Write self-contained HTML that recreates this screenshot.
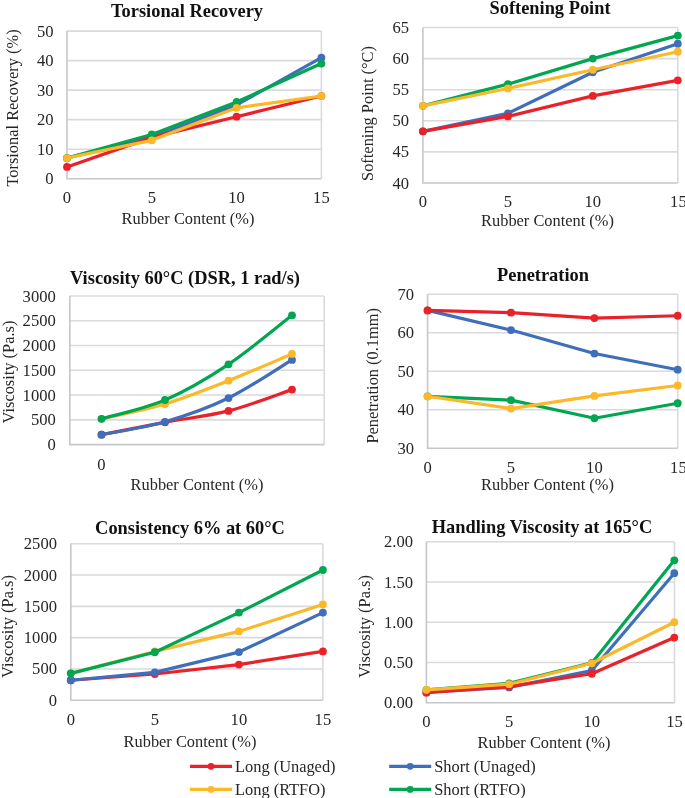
<!DOCTYPE html>
<html><head><meta charset="utf-8"><style>
html,body{margin:0;padding:0;background:#fff;width:685px;height:798px;overflow:hidden}
svg{display:block;will-change:transform}
text{font-family:"Liberation Serif", serif;fill:#262626}
</style></head><body>
<svg width="685" height="798" viewBox="0 0 685 798">
<rect width="685" height="798" fill="#fff"/>
<line x1="67" y1="31.1" x2="321.4" y2="31.1" stroke="#D9DADE" stroke-width="1.6"/>
<line x1="67" y1="60.62" x2="321.4" y2="60.62" stroke="#D9DADE" stroke-width="1.6"/>
<line x1="67" y1="90.14" x2="321.4" y2="90.14" stroke="#D9DADE" stroke-width="1.6"/>
<line x1="67" y1="119.66" x2="321.4" y2="119.66" stroke="#D9DADE" stroke-width="1.6"/>
<line x1="67" y1="149.18" x2="321.4" y2="149.18" stroke="#D9DADE" stroke-width="1.6"/>
<line x1="321.4" y1="31.1" x2="321.4" y2="178.7" stroke="#D9DADE" stroke-width="1.6"/>
<path d="M67,31.1 L67,178.7 L321.4,178.7" fill="none" stroke="#C6C7CB" stroke-width="1.6"/>
<text transform="translate(53.5 36.6) scale(1 1.05)" text-anchor="end" font-size="16.6">50</text>
<text transform="translate(53.5 66.12) scale(1 1.05)" text-anchor="end" font-size="16.6">40</text>
<text transform="translate(53.5 95.64) scale(1 1.05)" text-anchor="end" font-size="16.6">30</text>
<text transform="translate(53.5 125.16) scale(1 1.05)" text-anchor="end" font-size="16.6">20</text>
<text transform="translate(53.5 154.68) scale(1 1.05)" text-anchor="end" font-size="16.6">10</text>
<text transform="translate(53.5 184.2) scale(1 1.05)" text-anchor="end" font-size="16.6">0</text>
<text transform="translate(67 202.8) scale(1 1.05)" text-anchor="middle" font-size="16.6">0</text>
<text transform="translate(151.8 202.8) scale(1 1.05)" text-anchor="middle" font-size="16.6">5</text>
<text transform="translate(236.6 202.8) scale(1 1.05)" text-anchor="middle" font-size="16.6">10</text>
<text transform="translate(321.4 202.8) scale(1 1.05)" text-anchor="middle" font-size="16.6">15</text>
<text transform="translate(187 17.1) scale(1 1.05)" text-anchor="middle" font-size="18.4" font-weight="bold" style="fill:#111">Torsional Recovery</text>
<text transform="translate(188 223.6) scale(1 1.05)" text-anchor="middle" font-size="16.4">Rubber Content (%)</text>
<text transform="translate(18 108) rotate(-90) scale(1 1.05)" text-anchor="middle" font-size="16.4">Torsional Recovery (%)</text>
<path d="M67,158.04 L151.8,137.37 L236.6,104.9 L321.4,57.67" fill="none" stroke="#3F6EBA" stroke-width="3.2" stroke-linejoin="round" stroke-linecap="round"/>
<circle cx="67" cy="158.04" r="3.9" fill="#3F6EBA"/>
<circle cx="151.8" cy="137.37" r="3.9" fill="#3F6EBA"/>
<circle cx="236.6" cy="104.9" r="3.9" fill="#3F6EBA"/>
<circle cx="321.4" cy="57.67" r="3.9" fill="#3F6EBA"/>
<path d="M67,166.89 L151.8,137.37 L236.6,116.71 L321.4,96.04" fill="none" stroke="#EA2128" stroke-width="3.2" stroke-linejoin="round" stroke-linecap="round"/>
<circle cx="67" cy="166.89" r="3.9" fill="#EA2128"/>
<circle cx="151.8" cy="137.37" r="3.9" fill="#EA2128"/>
<circle cx="236.6" cy="116.71" r="3.9" fill="#EA2128"/>
<circle cx="321.4" cy="96.04" r="3.9" fill="#EA2128"/>
<path d="M67,158.04 L151.8,134.42 L236.6,101.95 L321.4,63.57" fill="none" stroke="#00A652" stroke-width="3.2" stroke-linejoin="round" stroke-linecap="round"/>
<circle cx="67" cy="158.04" r="3.9" fill="#00A652"/>
<circle cx="151.8" cy="134.42" r="3.9" fill="#00A652"/>
<circle cx="236.6" cy="101.95" r="3.9" fill="#00A652"/>
<circle cx="321.4" cy="63.57" r="3.9" fill="#00A652"/>
<path d="M67,158.04 L151.8,140.32 L236.6,107.85 L321.4,96.04" fill="none" stroke="#FBB829" stroke-width="3.2" stroke-linejoin="round" stroke-linecap="round"/>
<circle cx="67" cy="158.04" r="3.9" fill="#FBB829"/>
<circle cx="151.8" cy="140.32" r="3.9" fill="#FBB829"/>
<circle cx="236.6" cy="107.85" r="3.9" fill="#FBB829"/>
<circle cx="321.4" cy="96.04" r="3.9" fill="#FBB829"/>
<line x1="422.9" y1="27.5" x2="677.8" y2="27.5" stroke="#D9DADE" stroke-width="1.6"/>
<line x1="422.9" y1="58.6" x2="677.8" y2="58.6" stroke="#D9DADE" stroke-width="1.6"/>
<line x1="422.9" y1="89.7" x2="677.8" y2="89.7" stroke="#D9DADE" stroke-width="1.6"/>
<line x1="422.9" y1="120.8" x2="677.8" y2="120.8" stroke="#D9DADE" stroke-width="1.6"/>
<line x1="422.9" y1="151.9" x2="677.8" y2="151.9" stroke="#D9DADE" stroke-width="1.6"/>
<line x1="677.8" y1="27.5" x2="677.8" y2="183" stroke="#D9DADE" stroke-width="1.6"/>
<path d="M422.9,27.5 L422.9,183 L677.8,183" fill="none" stroke="#C6C7CB" stroke-width="1.6"/>
<text transform="translate(409 33) scale(1 1.05)" text-anchor="end" font-size="16.6">65</text>
<text transform="translate(409 64.1) scale(1 1.05)" text-anchor="end" font-size="16.6">60</text>
<text transform="translate(409 95.2) scale(1 1.05)" text-anchor="end" font-size="16.6">55</text>
<text transform="translate(409 126.3) scale(1 1.05)" text-anchor="end" font-size="16.6">50</text>
<text transform="translate(409 157.4) scale(1 1.05)" text-anchor="end" font-size="16.6">45</text>
<text transform="translate(409 188.5) scale(1 1.05)" text-anchor="end" font-size="16.6">40</text>
<text transform="translate(422.9 207.2) scale(1 1.05)" text-anchor="middle" font-size="16.6">0</text>
<text transform="translate(507.9 207.2) scale(1 1.05)" text-anchor="middle" font-size="16.6">5</text>
<text transform="translate(592.8 207.2) scale(1 1.05)" text-anchor="middle" font-size="16.6">10</text>
<text transform="translate(678.4 207.2) scale(1 1.05)" text-anchor="middle" font-size="16.6">15</text>
<text transform="translate(550 13.9) scale(1 1.05)" text-anchor="middle" font-size="18.4" font-weight="bold" style="fill:#111">Softening Point</text>
<text transform="translate(547.5 225.7) scale(1 1.05)" text-anchor="middle" font-size="16.4">Rubber Content (%)</text>
<text transform="translate(372.7 113.5) rotate(-90) scale(1 1.05)" text-anchor="middle" font-size="16.4">Softening Point (°C)</text>
<path d="M422.9,131.37 L507.9,113.34 L592.8,72.28 L677.8,43.67" fill="none" stroke="#3F6EBA" stroke-width="3.2" stroke-linejoin="round" stroke-linecap="round"/>
<circle cx="422.9" cy="131.37" r="3.9" fill="#3F6EBA"/>
<circle cx="507.9" cy="113.34" r="3.9" fill="#3F6EBA"/>
<circle cx="592.8" cy="72.28" r="3.9" fill="#3F6EBA"/>
<circle cx="677.8" cy="43.67" r="3.9" fill="#3F6EBA"/>
<path d="M422.9,131.37 L507.9,116.45 L592.8,95.92 L677.8,80.37" fill="none" stroke="#EA2128" stroke-width="3.2" stroke-linejoin="round" stroke-linecap="round"/>
<circle cx="422.9" cy="131.37" r="3.9" fill="#EA2128"/>
<circle cx="507.9" cy="116.45" r="3.9" fill="#EA2128"/>
<circle cx="592.8" cy="95.92" r="3.9" fill="#EA2128"/>
<circle cx="677.8" cy="80.37" r="3.9" fill="#EA2128"/>
<path d="M422.9,105.87 L507.9,84.1 L592.8,58.6 L677.8,35.59" fill="none" stroke="#00A652" stroke-width="3.2" stroke-linejoin="round" stroke-linecap="round"/>
<circle cx="422.9" cy="105.87" r="3.9" fill="#00A652"/>
<circle cx="507.9" cy="84.1" r="3.9" fill="#00A652"/>
<circle cx="592.8" cy="58.6" r="3.9" fill="#00A652"/>
<circle cx="677.8" cy="35.59" r="3.9" fill="#00A652"/>
<path d="M422.9,105.87 L507.9,88.46 L592.8,69.8 L677.8,51.76" fill="none" stroke="#FBB829" stroke-width="3.2" stroke-linejoin="round" stroke-linecap="round"/>
<circle cx="422.9" cy="105.87" r="3.9" fill="#FBB829"/>
<circle cx="507.9" cy="88.46" r="3.9" fill="#FBB829"/>
<circle cx="592.8" cy="69.8" r="3.9" fill="#FBB829"/>
<circle cx="677.8" cy="51.76" r="3.9" fill="#FBB829"/>
<line x1="69.8" y1="296" x2="324.2" y2="296" stroke="#D9DADE" stroke-width="1.6"/>
<line x1="69.8" y1="320.77" x2="324.2" y2="320.77" stroke="#D9DADE" stroke-width="1.6"/>
<line x1="69.8" y1="345.53" x2="324.2" y2="345.53" stroke="#D9DADE" stroke-width="1.6"/>
<line x1="69.8" y1="370.3" x2="324.2" y2="370.3" stroke="#D9DADE" stroke-width="1.6"/>
<line x1="69.8" y1="395.07" x2="324.2" y2="395.07" stroke="#D9DADE" stroke-width="1.6"/>
<line x1="69.8" y1="419.83" x2="324.2" y2="419.83" stroke="#D9DADE" stroke-width="1.6"/>
<line x1="324.2" y1="296" x2="324.2" y2="444.6" stroke="#D9DADE" stroke-width="1.6"/>
<path d="M69.8,296 L69.8,444.6 L324.2,444.6" fill="none" stroke="#C6C7CB" stroke-width="1.6"/>
<text transform="translate(55.8 301.5) scale(1 1.05)" text-anchor="end" font-size="16.6">3000</text>
<text transform="translate(55.8 326.27) scale(1 1.05)" text-anchor="end" font-size="16.6">2500</text>
<text transform="translate(55.8 351.03) scale(1 1.05)" text-anchor="end" font-size="16.6">2000</text>
<text transform="translate(55.8 375.8) scale(1 1.05)" text-anchor="end" font-size="16.6">1500</text>
<text transform="translate(55.8 400.57) scale(1 1.05)" text-anchor="end" font-size="16.6">1000</text>
<text transform="translate(55.8 425.33) scale(1 1.05)" text-anchor="end" font-size="16.6">500</text>
<text transform="translate(55.8 450.1) scale(1 1.05)" text-anchor="end" font-size="16.6">0</text>
<text transform="translate(101.5 470) scale(1 1.05)" text-anchor="middle" font-size="16.6">0</text>
<text transform="translate(185 283.7) scale(1 1.05)" text-anchor="middle" font-size="18.4" font-weight="bold" style="fill:#111">Viscosity 60°C (DSR, 1 rad/s)</text>
<text transform="translate(197 489.5) scale(1 1.05)" text-anchor="middle" font-size="16.4">Rubber Content (%)</text>
<text transform="translate(14 372) rotate(-90) scale(1 1.05)" text-anchor="middle" font-size="16.4">Viscosity (Pa.s)</text>
<path d="M101.5,434.69 C112.08,432.63 143.83,426.27 165,422.31 C186.17,418.35 207.33,416.37 228.5,410.92 C249.67,405.47 281.42,393.17 292,389.62" fill="none" stroke="#EA2128" stroke-width="3.2" stroke-linejoin="round" stroke-linecap="round"/>
<circle cx="101.5" cy="434.69" r="3.9" fill="#EA2128"/>
<circle cx="165" cy="422.31" r="3.9" fill="#EA2128"/>
<circle cx="228.5" cy="410.92" r="3.9" fill="#EA2128"/>
<circle cx="292" cy="389.62" r="3.9" fill="#EA2128"/>
<path d="M101.5,434.69 C112.08,432.55 143.83,427.92 165,421.81 C186.17,415.71 207.33,408.36 228.5,398.04 C249.67,387.72 281.42,366.25 292,359.9" fill="none" stroke="#3F6EBA" stroke-width="3.2" stroke-linejoin="round" stroke-linecap="round"/>
<circle cx="101.5" cy="434.69" r="3.9" fill="#3F6EBA"/>
<circle cx="165" cy="421.81" r="3.9" fill="#3F6EBA"/>
<circle cx="228.5" cy="398.04" r="3.9" fill="#3F6EBA"/>
<circle cx="292" cy="359.9" r="3.9" fill="#3F6EBA"/>
<path d="M101.5,418.84 C112.08,416.37 143.83,410.34 165,403.98 C186.17,397.63 207.33,389.04 228.5,380.7 C249.67,372.36 281.42,358.41 292,353.95" fill="none" stroke="#FBB829" stroke-width="3.2" stroke-linejoin="round" stroke-linecap="round"/>
<circle cx="101.5" cy="418.84" r="3.9" fill="#FBB829"/>
<circle cx="165" cy="403.98" r="3.9" fill="#FBB829"/>
<circle cx="228.5" cy="380.7" r="3.9" fill="#FBB829"/>
<circle cx="292" cy="353.95" r="3.9" fill="#FBB829"/>
<path d="M101.5,418.84 C112.08,415.71 143.83,409.1 165,400.02 C186.17,390.94 207.33,378.47 228.5,364.36 C249.67,350.24 281.42,323.49 292,315.32" fill="none" stroke="#00A652" stroke-width="3.2" stroke-linejoin="round" stroke-linecap="round"/>
<circle cx="101.5" cy="418.84" r="3.9" fill="#00A652"/>
<circle cx="165" cy="400.02" r="3.9" fill="#00A652"/>
<circle cx="228.5" cy="364.36" r="3.9" fill="#00A652"/>
<circle cx="292" cy="315.32" r="3.9" fill="#00A652"/>
<line x1="427.6" y1="294.2" x2="677.7" y2="294.2" stroke="#D9DADE" stroke-width="1.6"/>
<line x1="427.6" y1="332.73" x2="677.7" y2="332.73" stroke="#D9DADE" stroke-width="1.6"/>
<line x1="427.6" y1="371.25" x2="677.7" y2="371.25" stroke="#D9DADE" stroke-width="1.6"/>
<line x1="427.6" y1="409.77" x2="677.7" y2="409.77" stroke="#D9DADE" stroke-width="1.6"/>
<line x1="677.7" y1="294.2" x2="677.7" y2="448.3" stroke="#D9DADE" stroke-width="1.6"/>
<path d="M427.6,294.2 L427.6,448.3 L677.7,448.3" fill="none" stroke="#C6C7CB" stroke-width="1.6"/>
<text transform="translate(414 299.7) scale(1 1.05)" text-anchor="end" font-size="16.6">70</text>
<text transform="translate(414 338.23) scale(1 1.05)" text-anchor="end" font-size="16.6">60</text>
<text transform="translate(414 376.75) scale(1 1.05)" text-anchor="end" font-size="16.6">50</text>
<text transform="translate(414 415.27) scale(1 1.05)" text-anchor="end" font-size="16.6">40</text>
<text transform="translate(414 453.8) scale(1 1.05)" text-anchor="end" font-size="16.6">30</text>
<text transform="translate(427.6 472.6) scale(1 1.05)" text-anchor="middle" font-size="16.6">0</text>
<text transform="translate(511 472.6) scale(1 1.05)" text-anchor="middle" font-size="16.6">5</text>
<text transform="translate(594.4 472.6) scale(1 1.05)" text-anchor="middle" font-size="16.6">10</text>
<text transform="translate(678.4 472.6) scale(1 1.05)" text-anchor="middle" font-size="16.6">15</text>
<text transform="translate(543 281) scale(1 1.05)" text-anchor="middle" font-size="18.4" font-weight="bold" style="fill:#111">Penetration</text>
<text transform="translate(547.5 490) scale(1 1.05)" text-anchor="middle" font-size="16.4">Rubber Content (%)</text>
<text transform="translate(377.5 375.8) rotate(-90) scale(1 1.05)" text-anchor="middle" font-size="16.4">Penetration (0.1mm)</text>
<path d="M427.6,310.38 L511,330.03 L594.4,353.53 L677.7,369.71" fill="none" stroke="#3F6EBA" stroke-width="3.2" stroke-linejoin="round" stroke-linecap="round"/>
<circle cx="427.6" cy="310.38" r="3.9" fill="#3F6EBA"/>
<circle cx="511" cy="330.03" r="3.9" fill="#3F6EBA"/>
<circle cx="594.4" cy="353.53" r="3.9" fill="#3F6EBA"/>
<circle cx="677.7" cy="369.71" r="3.9" fill="#3F6EBA"/>
<path d="M427.6,310.38 L511,312.69 L594.4,318.09 L677.7,315.77" fill="none" stroke="#EA2128" stroke-width="3.2" stroke-linejoin="round" stroke-linecap="round"/>
<circle cx="427.6" cy="310.38" r="3.9" fill="#EA2128"/>
<circle cx="511" cy="312.69" r="3.9" fill="#EA2128"/>
<circle cx="594.4" cy="318.09" r="3.9" fill="#EA2128"/>
<circle cx="677.7" cy="315.77" r="3.9" fill="#EA2128"/>
<path d="M427.6,396.29 L511,400.14 L594.4,418.25 L677.7,403.23" fill="none" stroke="#00A652" stroke-width="3.2" stroke-linejoin="round" stroke-linecap="round"/>
<circle cx="427.6" cy="396.29" r="3.9" fill="#00A652"/>
<circle cx="511" cy="400.14" r="3.9" fill="#00A652"/>
<circle cx="594.4" cy="418.25" r="3.9" fill="#00A652"/>
<circle cx="677.7" cy="403.23" r="3.9" fill="#00A652"/>
<path d="M427.6,396.29 L511,408.62 L594.4,395.91 L677.7,385.5" fill="none" stroke="#FBB829" stroke-width="3.2" stroke-linejoin="round" stroke-linecap="round"/>
<circle cx="427.6" cy="396.29" r="3.9" fill="#FBB829"/>
<circle cx="511" cy="408.62" r="3.9" fill="#FBB829"/>
<circle cx="594.4" cy="395.91" r="3.9" fill="#FBB829"/>
<circle cx="677.7" cy="385.5" r="3.9" fill="#FBB829"/>
<line x1="70.8" y1="543.7" x2="322.9" y2="543.7" stroke="#D9DADE" stroke-width="1.6"/>
<line x1="70.8" y1="575.02" x2="322.9" y2="575.02" stroke="#D9DADE" stroke-width="1.6"/>
<line x1="70.8" y1="606.34" x2="322.9" y2="606.34" stroke="#D9DADE" stroke-width="1.6"/>
<line x1="70.8" y1="637.66" x2="322.9" y2="637.66" stroke="#D9DADE" stroke-width="1.6"/>
<line x1="70.8" y1="668.98" x2="322.9" y2="668.98" stroke="#D9DADE" stroke-width="1.6"/>
<line x1="322.9" y1="543.7" x2="322.9" y2="700.3" stroke="#D9DADE" stroke-width="1.6"/>
<path d="M70.8,543.7 L70.8,700.3 L322.9,700.3" fill="none" stroke="#C6C7CB" stroke-width="1.6"/>
<text transform="translate(57 549.2) scale(1 1.05)" text-anchor="end" font-size="16.6">2500</text>
<text transform="translate(57 580.52) scale(1 1.05)" text-anchor="end" font-size="16.6">2000</text>
<text transform="translate(57 611.84) scale(1 1.05)" text-anchor="end" font-size="16.6">1500</text>
<text transform="translate(57 643.16) scale(1 1.05)" text-anchor="end" font-size="16.6">1000</text>
<text transform="translate(57 674.48) scale(1 1.05)" text-anchor="end" font-size="16.6">500</text>
<text transform="translate(57 705.8) scale(1 1.05)" text-anchor="end" font-size="16.6">0</text>
<text transform="translate(70.8 725) scale(1 1.05)" text-anchor="middle" font-size="16.6">0</text>
<text transform="translate(154.8 725) scale(1 1.05)" text-anchor="middle" font-size="16.6">5</text>
<text transform="translate(238.9 725) scale(1 1.05)" text-anchor="middle" font-size="16.6">10</text>
<text transform="translate(322.9 725) scale(1 1.05)" text-anchor="middle" font-size="16.6">15</text>
<text transform="translate(190 534) scale(1 1.05)" text-anchor="middle" font-size="18.4" font-weight="bold" style="fill:#111">Consistency 6% at 60°C</text>
<text transform="translate(190 746.5) scale(1 1.05)" text-anchor="middle" font-size="16.4">Rubber Content (%)</text>
<text transform="translate(13 626.5) rotate(-90) scale(1 1.05)" text-anchor="middle" font-size="16.4">Viscosity (Pa.s)</text>
<path d="M70.8,680.26 L154.8,673.99 L238.9,664.6 L322.9,651.44" fill="none" stroke="#EA2128" stroke-width="3.2" stroke-linejoin="round" stroke-linecap="round"/>
<circle cx="70.8" cy="680.26" r="3.9" fill="#EA2128"/>
<circle cx="154.8" cy="673.99" r="3.9" fill="#EA2128"/>
<circle cx="238.9" cy="664.6" r="3.9" fill="#EA2128"/>
<circle cx="322.9" cy="651.44" r="3.9" fill="#EA2128"/>
<path d="M70.8,680.26 L154.8,672.43 L238.9,652.07 L322.9,612.6" fill="none" stroke="#3F6EBA" stroke-width="3.2" stroke-linejoin="round" stroke-linecap="round"/>
<circle cx="70.8" cy="680.26" r="3.9" fill="#3F6EBA"/>
<circle cx="154.8" cy="672.43" r="3.9" fill="#3F6EBA"/>
<circle cx="238.9" cy="652.07" r="3.9" fill="#3F6EBA"/>
<circle cx="322.9" cy="612.6" r="3.9" fill="#3F6EBA"/>
<path d="M70.8,673.36 L154.8,651.44 L238.9,631.4 L322.9,604.46" fill="none" stroke="#FBB829" stroke-width="3.2" stroke-linejoin="round" stroke-linecap="round"/>
<circle cx="70.8" cy="673.36" r="3.9" fill="#FBB829"/>
<circle cx="154.8" cy="651.44" r="3.9" fill="#FBB829"/>
<circle cx="238.9" cy="631.4" r="3.9" fill="#FBB829"/>
<circle cx="322.9" cy="604.46" r="3.9" fill="#FBB829"/>
<path d="M70.8,673.36 L154.8,652.26 L238.9,612.6 L322.9,570.01" fill="none" stroke="#00A652" stroke-width="3.2" stroke-linejoin="round" stroke-linecap="round"/>
<circle cx="70.8" cy="673.36" r="3.9" fill="#00A652"/>
<circle cx="154.8" cy="652.26" r="3.9" fill="#00A652"/>
<circle cx="238.9" cy="612.6" r="3.9" fill="#00A652"/>
<circle cx="322.9" cy="570.01" r="3.9" fill="#00A652"/>
<line x1="426.4" y1="541.8" x2="674.5" y2="541.8" stroke="#D9DADE" stroke-width="1.6"/>
<line x1="426.4" y1="582.02" x2="674.5" y2="582.02" stroke="#D9DADE" stroke-width="1.6"/>
<line x1="426.4" y1="622.25" x2="674.5" y2="622.25" stroke="#D9DADE" stroke-width="1.6"/>
<line x1="426.4" y1="662.48" x2="674.5" y2="662.48" stroke="#D9DADE" stroke-width="1.6"/>
<line x1="674.5" y1="541.8" x2="674.5" y2="702.7" stroke="#D9DADE" stroke-width="1.6"/>
<path d="M426.4,541.8 L426.4,702.7 L674.5,702.7" fill="none" stroke="#C6C7CB" stroke-width="1.6"/>
<text transform="translate(413 547.3) scale(1 1.05)" text-anchor="end" font-size="16.6">2.00</text>
<text transform="translate(413 587.52) scale(1 1.05)" text-anchor="end" font-size="16.6">1.50</text>
<text transform="translate(413 627.75) scale(1 1.05)" text-anchor="end" font-size="16.6">1.00</text>
<text transform="translate(413 667.98) scale(1 1.05)" text-anchor="end" font-size="16.6">0.50</text>
<text transform="translate(413 708.2) scale(1 1.05)" text-anchor="end" font-size="16.6">0.00</text>
<text transform="translate(426.4 727) scale(1 1.05)" text-anchor="middle" font-size="16.6">0</text>
<text transform="translate(509.1 727) scale(1 1.05)" text-anchor="middle" font-size="16.6">5</text>
<text transform="translate(591.8 727) scale(1 1.05)" text-anchor="middle" font-size="16.6">10</text>
<text transform="translate(674.5 727) scale(1 1.05)" text-anchor="middle" font-size="16.6">15</text>
<text transform="translate(542 532.5) scale(1 1.05)" text-anchor="middle" font-size="18.4" font-weight="bold" style="fill:#111">Handling Viscosity at 165°C</text>
<text transform="translate(544 747.5) scale(1 1.05)" text-anchor="middle" font-size="16.4">Rubber Content (%)</text>
<text transform="translate(369.5 626.5) rotate(-90) scale(1 1.05)" text-anchor="middle" font-size="16.4">Viscosity (Pa.s)</text>
<path d="M426.4,692.24 L509.1,687.41 L591.8,670.52 L674.3,573.18" fill="none" stroke="#3F6EBA" stroke-width="3.2" stroke-linejoin="round" stroke-linecap="round"/>
<circle cx="426.4" cy="692.24" r="3.9" fill="#3F6EBA"/>
<circle cx="509.1" cy="687.41" r="3.9" fill="#3F6EBA"/>
<circle cx="591.8" cy="670.52" r="3.9" fill="#3F6EBA"/>
<circle cx="674.3" cy="573.18" r="3.9" fill="#3F6EBA"/>
<path d="M426.4,692.64 L509.1,686.61 L591.8,673.74 L674.3,637.54" fill="none" stroke="#EA2128" stroke-width="3.2" stroke-linejoin="round" stroke-linecap="round"/>
<circle cx="426.4" cy="692.64" r="3.9" fill="#EA2128"/>
<circle cx="509.1" cy="686.61" r="3.9" fill="#EA2128"/>
<circle cx="591.8" cy="673.74" r="3.9" fill="#EA2128"/>
<circle cx="674.3" cy="637.54" r="3.9" fill="#EA2128"/>
<path d="M426.4,689.83 L509.1,683.39 L591.8,662.88 L674.3,560.3" fill="none" stroke="#00A652" stroke-width="3.2" stroke-linejoin="round" stroke-linecap="round"/>
<circle cx="426.4" cy="689.83" r="3.9" fill="#00A652"/>
<circle cx="509.1" cy="683.39" r="3.9" fill="#00A652"/>
<circle cx="591.8" cy="662.88" r="3.9" fill="#00A652"/>
<circle cx="674.3" cy="560.3" r="3.9" fill="#00A652"/>
<path d="M426.4,689.83 L509.1,684.2 L591.8,663.28 L674.3,622.25" fill="none" stroke="#FBB829" stroke-width="3.2" stroke-linejoin="round" stroke-linecap="round"/>
<circle cx="426.4" cy="689.83" r="3.9" fill="#FBB829"/>
<circle cx="509.1" cy="684.2" r="3.9" fill="#FBB829"/>
<circle cx="591.8" cy="663.28" r="3.9" fill="#FBB829"/>
<circle cx="674.3" cy="622.25" r="3.9" fill="#FBB829"/>
<line x1="190" y1="766.3" x2="232" y2="766.3" stroke="#EA2128" stroke-width="3.2"/>
<circle cx="211" cy="766.3" r="3.4" fill="#EA2128"/>
<text transform="translate(235 771.8) scale(1 1.05)" font-size="16.4">Long (Unaged)</text>
<line x1="389.2" y1="766.3" x2="431.2" y2="766.3" stroke="#3F6EBA" stroke-width="3.2"/>
<circle cx="410.2" cy="766.3" r="3.4" fill="#3F6EBA"/>
<text transform="translate(434.2 771.8) scale(1 1.05)" font-size="16.4">Short (Unaged)</text>
<line x1="190" y1="789.4" x2="232" y2="789.4" stroke="#FBB829" stroke-width="3.2"/>
<circle cx="211" cy="789.4" r="3.4" fill="#FBB829"/>
<text transform="translate(235 794.9) scale(1 1.05)" font-size="16.4">Long (RTFO)</text>
<line x1="389.2" y1="789.4" x2="431.2" y2="789.4" stroke="#00A652" stroke-width="3.2"/>
<circle cx="410.2" cy="789.4" r="3.4" fill="#00A652"/>
<text transform="translate(434.2 794.9) scale(1 1.05)" font-size="16.4">Short (RTFO)</text>
</svg>
</body></html>
